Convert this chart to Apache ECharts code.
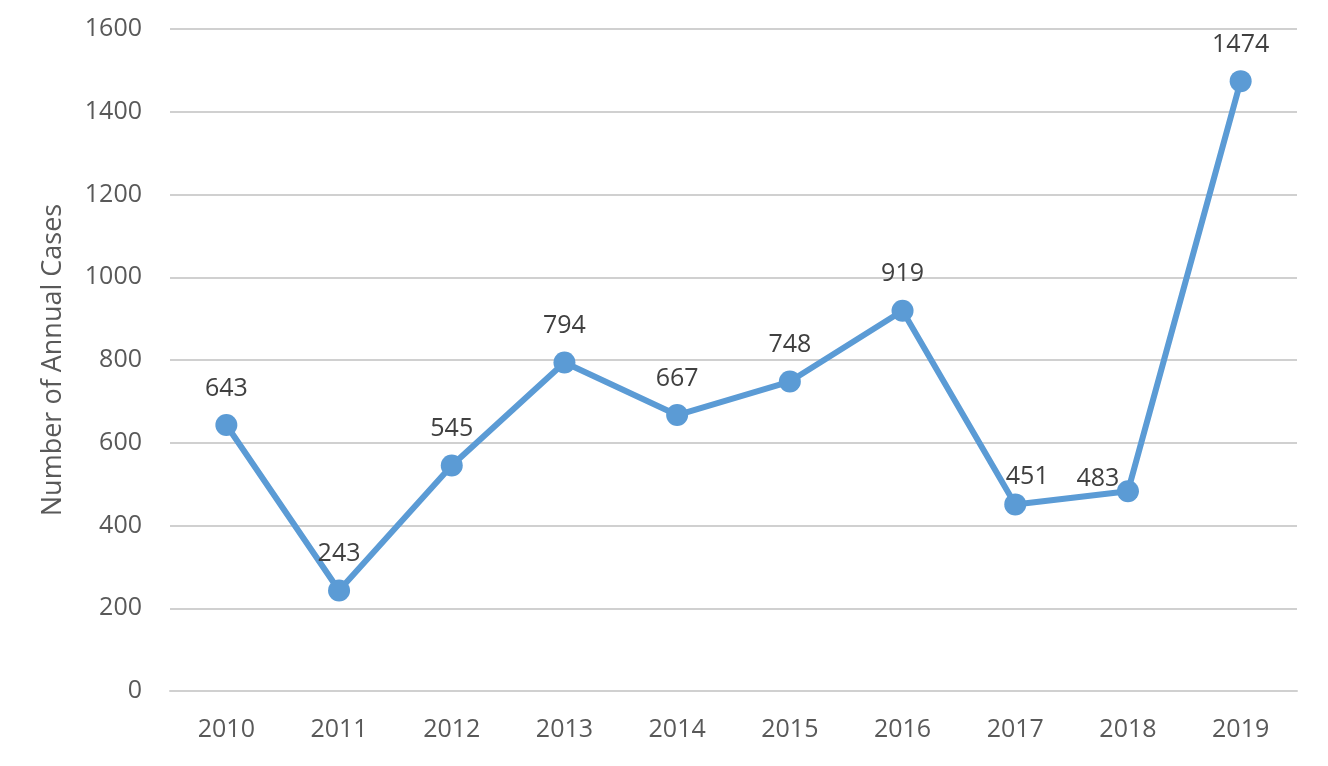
<!DOCTYPE html>
<html><head><meta charset="utf-8">
<script src="https://cdn.jsdelivr.net/npm/echarts@6/dist/echarts.min.js"></script>
<style>html,body{margin:0;padding:0;background:#fff}#c{width:1328px;height:766px}</style>
</head><body><div id="c"></div>
<script>
const years = ['2010','2011','2012','2013','2014','2015','2016','2017','2018','2019'];
const cases = [643, 243, 545, 794, 667, 748, 919, 451, 483, 1474];
const yTicks = [0, 200, 400, 600, 800, 1000, 1200, 1400, 1600];

// Label nudges (as in the original, where labels avoid the neighbouring line)
const labelNudge = {7: [12, 9], 8: [-30, 24]};
const seriesData = cases.map((v, i) => labelNudge[i] ? {value: v, label: {offset: labelNudge[i]}} : v);

const chart = echarts.init(document.getElementById('c'));
chart.setOption({
  animation: false,
  grid: {left: 170, right: 31, top: 29, bottom: 75},
  xAxis: {
    type: 'category', data: years, boundaryGap: true,
    axisLine: {lineStyle: {color: '#d0d0d0', width: 2}},
    axisTick: {show: false},
    axisLabel: {color: '#595959', fontSize: 25, fontFamily: 'Open Sans', margin: 26}
  },
  yAxis: {
    type: 'value', min: yTicks[0], max: yTicks[yTicks.length-1], interval: 200,
    name: 'Number of Annual Cases', nameLocation: 'middle', nameGap: 103, nameRotate: 90,
    nameTextStyle: {color: '#595959', fontSize: 27, fontFamily: 'Open Sans'},
    axisLine: {show: false}, axisTick: {show: false},
    axisLabel: {color: '#595959', fontSize: 25, fontFamily: 'Open Sans', margin: 28, formatter: v => String(v)},
    splitLine: {lineStyle: {color: '#d0d0d0', width: 2}}
  },
  series: [{
    type: 'line', data: seriesData,
    symbol: 'circle', symbolSize: 22,
    lineStyle: {color: '#5b9bd5', width: 6},
    itemStyle: {color: '#5b9bd5'},
    label: {show: true, position: 'top', distance: 13, color: '#404040', fontSize: 25, fontFamily: 'Open Sans'}
  }]
});
</script></body></html>
